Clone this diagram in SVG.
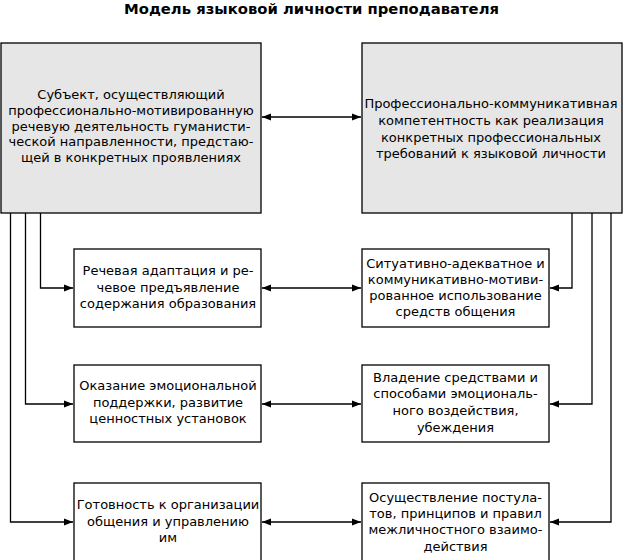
<svg xmlns="http://www.w3.org/2000/svg" width="623" height="560" viewBox="0 0 623 560">
<style>
.bg{fill:#ffffff}
.box{fill:#ffffff;stroke:#000;stroke-width:1.3}
.gray{fill:#e6e6e6;stroke:#000;stroke-width:1.3}
.t{font-family:"DejaVu Sans","Liberation Sans",sans-serif;font-size:13px;fill:#000;text-anchor:middle}
.title{font-family:"DejaVu Sans","Liberation Sans",sans-serif;font-size:14px;font-weight:bold;fill:#000;text-anchor:middle}
.c{fill:none;stroke:#000;stroke-width:1.3}
</style>
<defs>
<marker id="ah" markerUnits="userSpaceOnUse" markerWidth="10" markerHeight="8" refX="9" refY="4" orient="auto-start-reverse">
<path d="M0,0.5 L9,4 L0,7.5 z" fill="#000"/>
</marker>
</defs>
<rect class="bg" x="0" y="0" width="623" height="560"/>
<text class="title" x="311.5" y="14" textLength="375" lengthAdjust="spacingAndGlyphs">Модель языковой личности преподавателя</text>

<g id="connectors">
<path class="c" d="M262,117 H361" marker-start="url(#ah)" marker-end="url(#ah)"/>
<path class="c" d="M262,288 H361" marker-start="url(#ah)" marker-end="url(#ah)"/>
<path class="c" d="M262,404 H361" marker-start="url(#ah)" marker-end="url(#ah)"/>
<path class="c" d="M262,522 H361" marker-start="url(#ah)" marker-end="url(#ah)"/>
<path class="c" d="M40.5,213 V288 H73" marker-end="url(#ah)"/>
<path class="c" d="M25.5,213 V404 H73" marker-end="url(#ah)"/>
<path class="c" d="M10.5,213 V522 H73" marker-end="url(#ah)"/>
<path class="c" d="M572,213 V288 H550" marker-end="url(#ah)"/>
<path class="c" d="M592,213 V404 H550" marker-end="url(#ah)"/>
<path class="c" d="M611,213 V522 H550" marker-end="url(#ah)"/>
</g>

<g id="subject">
<rect class="gray" x="1" y="43" width="260" height="170"/>
<text class="t" x="131" y="99">Субъект, осуществляющий</text>
<text class="t" x="131" y="115">профессионально-мотивированную</text>
<text class="t" x="131" y="130.7">речевую деятельность гуманисти-</text>
<text class="t" x="131" y="146.3">ческой направленности, предстаю-</text>
<text class="t" x="131" y="162">щей в конкретных проявлениях</text>
</g>

<g id="competence">
<rect class="gray" x="362" y="43" width="260" height="170"/>
<text class="t" x="491" y="108.3">Профессионально-коммуникативная</text>
<text class="t" x="491" y="125">компетентность как реализация</text>
<text class="t" x="491" y="141.7">конкретных профессиональных</text>
<text class="t" x="491" y="158.3">требований к языковой личности</text>
</g>

<g id="adaptation">
<rect class="box" x="74" y="249" width="187" height="78"/>
<text class="t" x="168" y="275">Речевая адаптация и ре-</text>
<text class="t" x="168" y="291.5">чевое предъявление</text>
<text class="t" x="168" y="307.5">содержания образования</text>
</g>

<g id="situational">
<rect class="box" x="362" y="249" width="187" height="78"/>
<text class="t" x="455.5" y="268.3">Ситуативно-адекватное и</text>
<text class="t" x="455.5" y="284.3">коммуникативно-мотиви-</text>
<text class="t" x="455.5" y="300.3">рованное использование</text>
<text class="t" x="455.5" y="316.3">средств общения</text>
</g>

<g id="support">
<rect class="box" x="74" y="365" width="187" height="77"/>
<text class="t" x="168" y="390">Оказание эмоциональной</text>
<text class="t" x="168" y="406.7">поддержки, развитие</text>
<text class="t" x="168" y="423.3">ценностных установок</text>
</g>

<g id="means">
<rect class="box" x="362" y="365" width="187" height="77"/>
<text class="t" x="455.5" y="381.7">Владение средствами и</text>
<text class="t" x="455.5" y="398.3">способами эмоциональ-</text>
<text class="t" x="455.5" y="415">ного воздействия,</text>
<text class="t" x="455.5" y="431.7">убеждения</text>
</g>

<g id="readiness">
<rect class="box" x="74" y="483" width="187" height="82"/>
<text class="t" x="168" y="509.3">Готовность к организации</text>
<text class="t" x="168" y="526">общения и управлению</text>
<text class="t" x="168" y="541.7">им</text>
</g>

<g id="postulates">
<rect class="box" x="362" y="483" width="187" height="82"/>
<text class="t" x="455.5" y="501.7">Осуществление постула-</text>
<text class="t" x="455.5" y="518.3">тов, принципов и правил</text>
<text class="t" x="455.5" y="534.3">межличностного взаимо-</text>
<text class="t" x="455.5" y="551">действия</text>
</g>
</svg>
